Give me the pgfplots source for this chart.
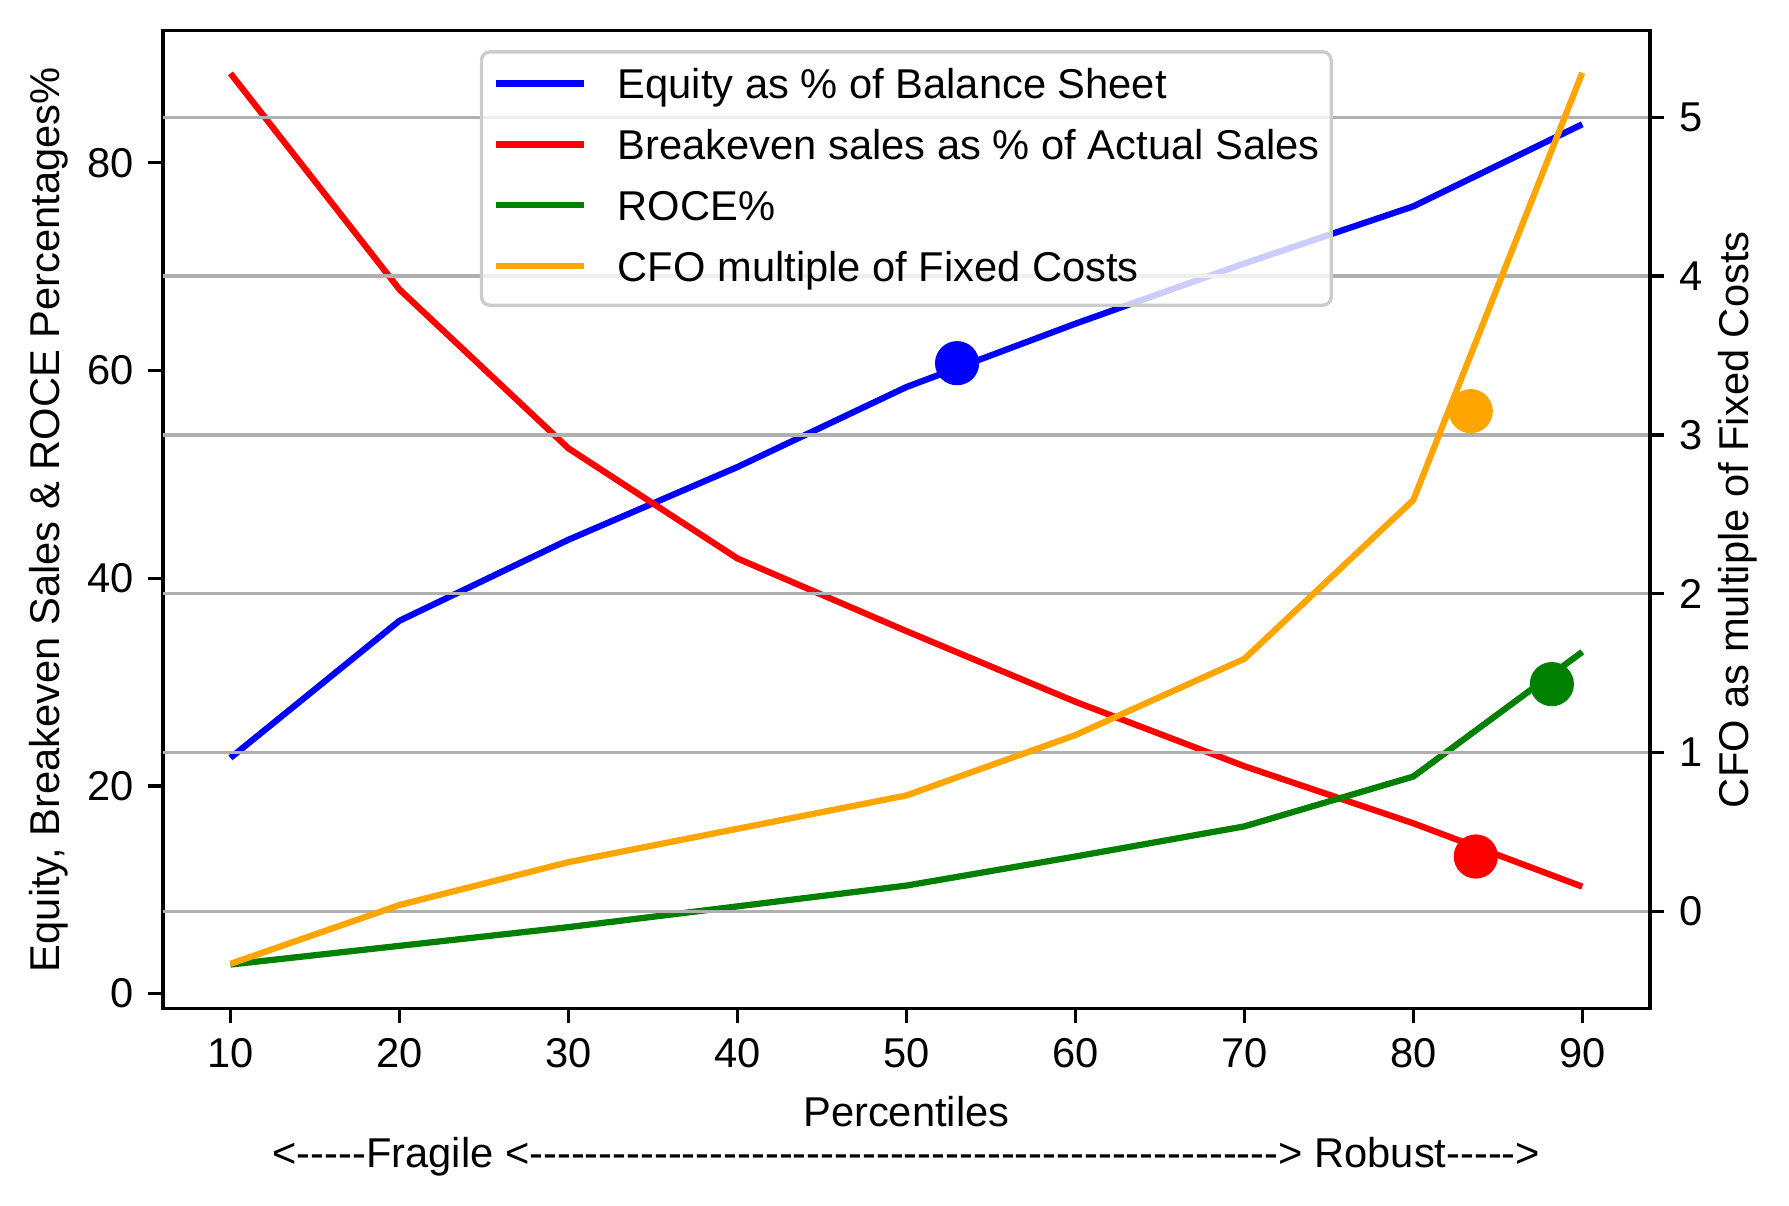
\documentclass[border=0pt]{standalone}
\usepackage{fontspec}
\setmainfont{Liberation Sans}[Ligatures=TeXOff]
\usepackage{pgfplots}
\pgfplotsset{compat=1.18}
\definecolor{mplorange}{RGB}{255,165,0}
\definecolor{mplgreen}{RGB}{0,128,0}
\definecolor{gridgray}{RGB}{176,176,176}
\definecolor{legframe}{RGB}{204,204,204}
\pgfplotsset{
  common/.style={
    width=356.9pt, height=234.7pt, scale only axis,
    xmin=6, xmax=94,
    tick align=outside,
    major tick length=3.5pt,
    every tick/.style={black, line width=0.8pt},
    tick label style={font=\fontsize{10}{12}\selectfont},
    /pgf/number format/assume math mode=true,
    label style={font=\fontsize{10}{12}\selectfont},
    axis line style={line width=0.8pt},
  }
}
\begin{document}
\begin{tikzpicture}
\begin{axis}[common, name=ax,
  ymin=-1.45, ymax=92.7,
  xtick={10,20,...,90}, ytick={0,20,...,80},
  xtick pos=bottom, ytick pos=left,
  xlabel={Percentiles},
  every axis x label/.style={at={(axis description cs:0.5,-0.1210)}, anchor=base},
  ylabel={Equity, Breakeven Sales \& ROCE Percentages\%},
  every axis y label/.style={at={(axis description cs:-0.0770,0.5)}, anchor=center, rotate=90},
]
\addplot[blue, line width=1.5pt, line join=round] coordinates {
(10,22.7) (20,35.9) (30,43.7) (40,50.7) (50,58.4) (60,64.5) (70,70.3) (80,75.8) (90,83.7)};
\addplot[red, line width=1.5pt, line join=round] coordinates {
(10,88.6) (20,67.8) (30,52.5) (40,41.9) (50,34.9) (60,28.1) (70,21.9) (80,16.4) (90,10.3)};
\addplot[mplgreen, line width=1.5pt, line join=round] coordinates {
(10,2.8) (20,4.6) (30,6.4) (40,8.4) (50,10.4) (60,13.2) (70,16.1) (80,20.9) (90,32.9)};
\addplot[only marks, mark=*, mark size=5.1pt, blue, mark options={draw=none, fill=blue}] coordinates {(53,60.7)};
\addplot[only marks, mark=*, mark size=5.1pt, red, mark options={draw=none, fill=red}] coordinates {(83.7,13.2)};
\addplot[only marks, mark=*, mark size=5.1pt, mplgreen, mark options={draw=none, fill=mplgreen}] coordinates {(88.2,29.8)};
\end{axis}
\begin{axis}[common,
  ymin=-0.6126, ymax=5.5446,
  axis x line=none, axis y line*=right,
  ytick={0,1,2,3,4,5}, ytick pos=right,
  ymajorgrids, grid style={gridgray, line width=0.8pt},
  ylabel={CFO as multiple of Fixed Costs},
  every axis y label/.style={at={(axis description cs:1.0594,0.5)}, anchor=center, rotate=90},
  legend cell align=left,
  legend image code/.code={\draw[#1, line cap=butt] (0pt,0.9pt) -- (21pt,0.9pt);},
  legend style={at={(axis description cs:0.5,1)}, anchor=north, yshift=-4.66pt,
    draw=legframe, line width=0.8pt, rounded corners=2pt,
    fill=white, fill opacity=0.8, draw opacity=1, text opacity=1,
    font=\fontsize{10}{12}\selectfont,
    inner xsep=2.8pt, inner ysep=3.7pt, row sep=5pt, column sep=7.4pt,
    nodes={inner sep=0pt, text height=7.5pt, text depth=2.1pt}},
]
\addlegendimage{blue, line width=1.5pt}
\addlegendentry{Equity as \% of Balance Sheet}
\addlegendimage{red, line width=1.5pt}
\addlegendentry{Breakeven sales as \% of Actual Sales}
\addlegendimage{mplgreen, line width=1.5pt}
\addlegendentry{ROCE\%}
\addplot[mplorange, line width=1.5pt, line join=round] coordinates {
(10,-0.33) (20,0.04) (30,0.31) (40,0.52) (50,0.73) (60,1.11) (70,1.59) (80,2.59) (90,5.28)};
\addlegendentry{CFO multiple of Fixed Costs}
\addplot[only marks, mark=*, mark size=5.1pt, mplorange, mark options={draw=none, fill=mplorange}, forget plot] coordinates {(83.4,3.15)};
\end{axis}
\node[anchor=base, font=\fontsize{10}{12}\selectfont] at ([yshift=-38.2pt]ax.south)
  {<-----Fragile <------------------------------------------------------> Robust----->};
\pgfresetboundingbox
\path[use as bounding box] ([xshift=-39.1pt,yshift=-47.3pt]ax.south west) rectangle ([xshift=33.4pt,yshift=7.4pt]ax.north east);
\end{tikzpicture}
\end{document}
